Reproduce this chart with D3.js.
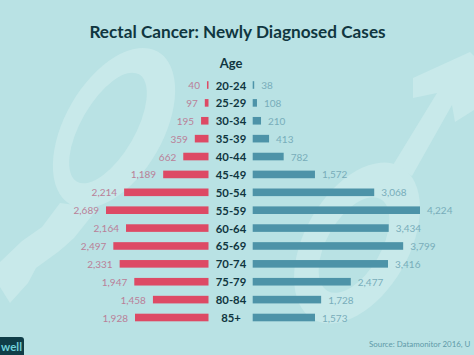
<!DOCTYPE html>
<html><head><meta charset="utf-8">
<script src="https://cdn.jsdelivr.net/npm/d3@7"></script>
<style>html,body{margin:0;padding:0;background:#b9e2e4;overflow:hidden}svg{display:block}text{font-family:Lato,"Noto Sans",sans-serif}</style>
</head><body><svg id="c" width="474" height="355"></svg>
<script>
const ages=["20-24","25-29","30-34","35-39","40-44","45-49","50-54","55-59","60-64","65-69","70-74","75-79","80-84","85+"];
const women=[40,97,195,359,662,1189,2214,2689,2164,2497,2331,1947,1458,1928];
const men=[38,108,210,413,782,1572,3068,4224,3434,3799,3416,2477,1728,1573];
const title="Rectal Cancer: Newly Diagnosed Cases";
const ageHeader="Age";
const source="Source: Datamonitor 2016, U";
const logo="well";

const svg=d3.select("#c");
const fmt=d3.format(",");
const bg="#b9e2e4",sym="#c8e9ea";
svg.append("rect").attr("width",474).attr("height",355).attr("fill",bg);

// background gender symbols
const g=svg.append("g");
function ring(cx,cy,a,b,ai,bi,icx,icy,rot){
  g.append("ellipse").attr("cx",cx).attr("cy",cy).attr("rx",a).attr("ry",b).attr("fill",sym).attr("transform",`rotate(${rot} ${cx} ${cy})`);
  g.append("ellipse").attr("cx",icx).attr("cy",icy).attr("rx",ai).attr("ry",bi).attr("fill",bg).attr("transform",`rotate(${rot} ${icx} ${icy})`);
}
const line=d3.line();
const poly=p=>g.append("path").attr("d",line(p)+"Z").attr("fill",sym);
poly([[60,203],[42,227],[22,241],[0,262],[0,287],[10,303],[28,283],[36,268],[58,252],[64,247],[74,238],[98,208]]);
ring(114,128,88,49,62,27,108,128,-60);
poly([[393,165],[437,93],[413,98],[413,78],[470,52],[474,56],[474,110],[455,122],[452,105],[412,176]]);
ring(357,243,88,52,53,27,354,245,-60);

// bars
const rowY=d3.scalePoint().domain(ages).range([85,317.5]);
const xL=d3.scaleLinear().domain([0,2689]).range([208.5,106]);
const xR=d3.scaleLinear().domain([0,4224]).range([252.7,420]);
const bh=7.6;
const rows=svg.append("g").selectAll("g").data(ages).join("g").attr("transform",d=>`translate(0,${rowY(d)})`);
rows.append("rect").attr("x",(d,i)=>xL(women[i])).attr("y",-bh/2).attr("width",(d,i)=>xL(0)-xL(women[i])).attr("height",bh).attr("fill","#dd4a65");
rows.append("rect").attr("x",xR(0)).attr("y",-bh/2).attr("width",(d,i)=>xR(men[i])-xR(0)).attr("height",bh).attr("fill","#4d93a8");
rows.append("text").attr("x",(d,i)=>xL(women[i])-7).attr("y",4).attr("text-anchor","end").attr("font-size",10).attr("fill","#b98098").text((d,i)=>fmt(women[i]));
rows.append("text").attr("x",(d,i)=>xR(men[i])+7).attr("y",4).attr("font-size",10).attr("fill","#78adba").text((d,i)=>fmt(men[i]));
rows.append("text").attr("x",231).attr("y",4.5).attr("text-anchor","middle").attr("font-size",11.3).attr("font-weight",700).attr("fill","#10363f").text(d=>d);

svg.append("text").attr("x",231).attr("y",68).attr("text-anchor","middle").attr("font-size",13).attr("font-weight",700).attr("fill","#10363f").text(ageHeader);
svg.append("text").attr("x",237.5).attr("y",38).attr("text-anchor","middle").attr("font-size",17.2).attr("font-weight",700).attr("fill","#10363f").text(title);
svg.append("text").attr("x",369).attr("y",347).attr("font-size",7.9).attr("fill","#5f9aa8").text(source);
svg.append("rect").attr("x",-6).attr("y",337).attr("width",30).attr("height",24).attr("rx",3).attr("fill","#0f3d47");
svg.append("text").attr("x",1).attr("y",351).attr("font-size",11.5).attr("font-weight",700).attr("fill","#6fd0d8").text(logo);
</script></body></html>
